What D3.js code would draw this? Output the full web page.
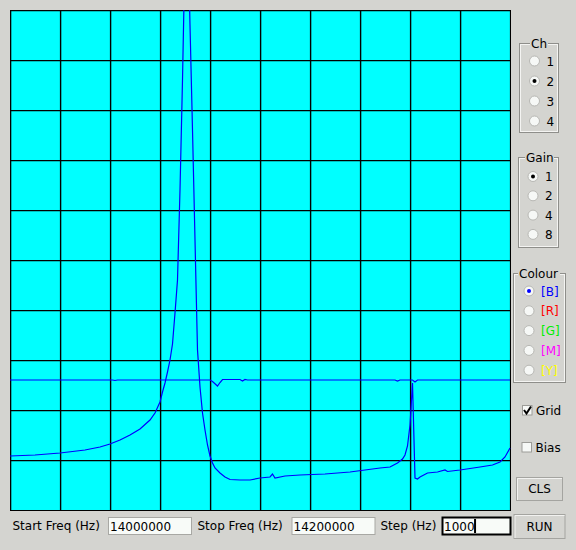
<!DOCTYPE html>
<html>
<head>
<meta charset="utf-8">
<script src="https://cdn.jsdelivr.net/npm/d3@7"></script>
<style>
  body { margin: 0; background: #d4d4d0; }
  svg { display: block; font-family: "DejaVu Sans", sans-serif; }
</style>
</head>
<body>
<svg width="576" height="550"></svg>
<script>
// sweep settings, offsets in kHz from start freq
const startFreq = 14000000;
const stopFreq = 14200000;
const stepHz = 1000;

// resonance sweep (channel 2), level in screen units 0..500
const sweepK = [0, 10, 20, 30, 36, 40, 44, 48, 52, 56, 58, 60, 61, 62, 63, 64, 65, 66, 67, 68, 69, 70, 71, 72, 73, 74, 75, 76, 77, 78, 79, 80, 81, 82, 84, 86, 88, 92, 96, 100, 104, 105, 106, 110, 116, 126, 136, 148, 152, 155, 157, 158, 159, 160, 161, 162, 163, 164, 167, 171, 174, 175, 180, 188, 193, 196, 198, 200];
const sweepLevel = [54, 55, 57, 60, 63, 66, 70, 75, 81, 90, 97, 108, 118, 127, 138, 150, 166, 197, 230, 320, 430, 560, 600, 485, 380, 270, 160, 123, 97, 80, 65, 54, 47, 42, 37, 33, 30.5, 30, 30, 32, 33, 36, 32, 34, 35, 36, 38, 42, 43, 47, 51, 55, 64, 85, 127, 32, 31, 33, 37, 38, 40, 38.5, 40, 43, 45, 48, 53, 62];

// earlier flat sweep
const flatK = [0, 41, 42, 43, 80, 81, 83, 84, 85, 92, 93, 94, 95, 154, 155, 156, 161, 162, 163, 200];
const flatLevel = [130, 130, 129.5, 130, 130, 128.5, 124, 127.5, 130.5, 130.5, 129, 130.5, 130, 130, 129, 130, 130, 128, 130, 130];

const chOptions = ['1', '2', '3', '4'];
const gainOptions = ['1', '2', '4', '8'];
const colourOptions = ['[B]', '[R]', '[G]', '[M]', '[Y]'];
const colourValues = ['#0000ff', '#ff0000', '#00ee00', '#ff00ff', '#ffff00'];

const svg = d3.select('svg');
const nSteps = (stopFreq - startFreq) / stepHz;

const x = d3.scaleLinear().domain([0, nSteps]).range([10, 510]);
const y = d3.scaleLinear().domain([0, 500]).range([510, 10]);

// plot area
svg.append('rect')
  .attr('x', 10).attr('y', 10).attr('width', 500).attr('height', 500)
  .attr('fill', '#00ffff');

svg.append('clipPath').attr('id', 'plot')
  .append('rect').attr('x', 10).attr('y', 10).attr('width', 501).attr('height', 501);

const plot = svg.append('g').attr('clip-path', 'url(#plot)');

// grid
const grid = plot.append('g').attr('stroke', '#000').attr('stroke-width', 1.4);
grid.selectAll('.gx').data(d3.range(0, nSteps + 1, 20)).join('line')
  .attr('x1', d => x(d) + 0.6).attr('x2', d => x(d) + 0.6)
  .attr('y1', 10).attr('y2', 511);
grid.selectAll('.gy').data(d3.range(0, 501, 50)).join('line')
  .attr('y1', d => y(d) + 0.6).attr('y2', d => y(d) + 0.6)
  .attr('x1', 10).attr('x2', 511);

const line = d3.line().x(d => x(d[0])).y(d => y(d[1]));

plot.append('path')
  .datum(d3.zip(flatK, flatLevel))
  .attr('d', line)
  .attr('fill', 'none').attr('stroke', '#0000ff').attr('stroke-width', 1.2);

plot.append('path')
  .datum(d3.zip(sweepK, sweepLevel))
  .attr('d', line)
  .attr('fill', 'none').attr('stroke', '#0000ff').attr('stroke-width', 1.2);

// ---- widgets ----
const ui = svg.append('g').attr('font-size', 12);

function groupBox(x0, y0, w, h, title, tx, tw) {
  ui.append('rect').attr('x', x0 + 0.5).attr('y', y0 + 0.5).attr('width', w).attr('height', h)
    .attr('fill', 'none').attr('stroke', '#8e8e8a');
  ui.append('rect').attr('x', x0 + 1.5).attr('y', y0 + 1.5).attr('width', w - 2).attr('height', h - 2)
    .attr('fill', 'none').attr('stroke', '#f4f4f2');
  ui.append('rect').attr('x', tx - 1).attr('y', y0 - 6).attr('width', tw + 2).attr('height', 12)
    .attr('fill', '#d4d4d0');
  ui.append('text').attr('x', tx).attr('y', y0 + 4.5).text(title).attr('fill', '#000');
}

function radio(cx, cy, on, dot, label, col) {
  ui.append('circle').attr('cx', cx).attr('cy', cy).attr('r', 5)
    .attr('fill', '#f6f8f6').attr('stroke', '#b8b8b4').attr('stroke-width', 1);
  if (on) ui.append('circle').attr('cx', cx).attr('cy', cy).attr('r', 2).attr('fill', dot);
  ui.append('text').attr('x', cx + 12).attr('y', cy + 4.5).text(label).attr('fill', col);
}

groupBox(519, 43, 39, 89, 'Ch', 531, 16);
chOptions.forEach((d, i) => radio(534.5, 61 + i * 20, i === 1, '#000', d, '#000'));

groupBox(518, 157, 40, 90, 'Gain', 526, 27);
gainOptions.forEach((d, i) => radio(533, 176.5 + i * 19.3, i === 0, '#000', d, '#000'));

groupBox(513, 273, 52, 109, 'Colour', 519, 40);
colourOptions.forEach((d, i) => radio(529, 291 + i * 19.8, i === 0, '#0000ff', d, colourValues[i]));

function checkbox(x0, y0, on, label) {
  ui.append('rect').attr('x', x0 + 0.5).attr('y', y0 + 0.5).attr('width', 9.5).attr('height', 9.5)
    .attr('fill', '#f6f8f6').attr('stroke', '#9c9c98');
  if (on) ui.append('path')
    .attr('d', `M${x0 + 2},${y0 + 5} L${x0 + 4.5},${y0 + 8.5} L${x0 + 9},${y0 + 1.5}`)
    .attr('fill', 'none').attr('stroke', '#000').attr('stroke-width', 2);
  ui.append('text').attr('x', x0 + 14).attr('y', y0 + 9.5).text(label);
}
checkbox(522, 405, true, 'Grid');
checkbox(521.5, 442, false, 'Bias');

function button(x0, y0, w, h, label) {
  ui.append('rect').attr('x', x0 + 0.5).attr('y', y0 + 0.5).attr('width', w).attr('height', h)
    .attr('fill', '#d4d4d0').attr('stroke', '#a4a4a0');
  ui.append('path').attr('d', `M${x0 + 1.5},${y0 + h} V${y0 + 1.5} H${x0 + w}`)
    .attr('fill', 'none').attr('stroke', '#f2f2f0');
  ui.append('text').attr('x', x0 + w / 2 + 0.5).attr('y', y0 + h / 2 + 4.5)
    .attr('text-anchor', 'middle').text(label);
}
button(516, 477, 46, 23, 'CLS');
button(513.5, 514, 51, 24, 'RUN');

// bottom entry row
function entry(x0, w, value, focus) {
  ui.append('rect').attr('x', x0 + 0.5).attr('y', 517.5).attr('width', w).attr('height', 17)
    .attr('fill', '#f8fbf8').attr('stroke', focus ? '#000' : '#a8a8a4')
    .attr('stroke-width', focus ? 2 : 1);
  const t = ui.append('text').attr('x', x0 + 2).attr('y', 530.5).text(value);
  if (focus) {
    const tw = t.node().getComputedTextLength();
    ui.append('line').attr('x1', x0 + 2.5 + tw).attr('x2', x0 + 2.5 + tw)
      .attr('y1', 519).attr('y2', 533).attr('stroke', '#000').attr('stroke-width', 2);
  }
}
ui.append('text').attr('x', 12.5).attr('y', 530).text('Start Freq (Hz)');
entry(108, 83, String(startFreq), false);
ui.append('text').attr('x', 197.5).attr('y', 530).text('Stop Freq (Hz)');
entry(291.5, 83, String(stopFreq), false);
ui.append('text').attr('x', 380.5).attr('y', 530).text('Step (Hz)');
entry(442, 68, String(stepHz), true);
</script>
</body>
</html>
